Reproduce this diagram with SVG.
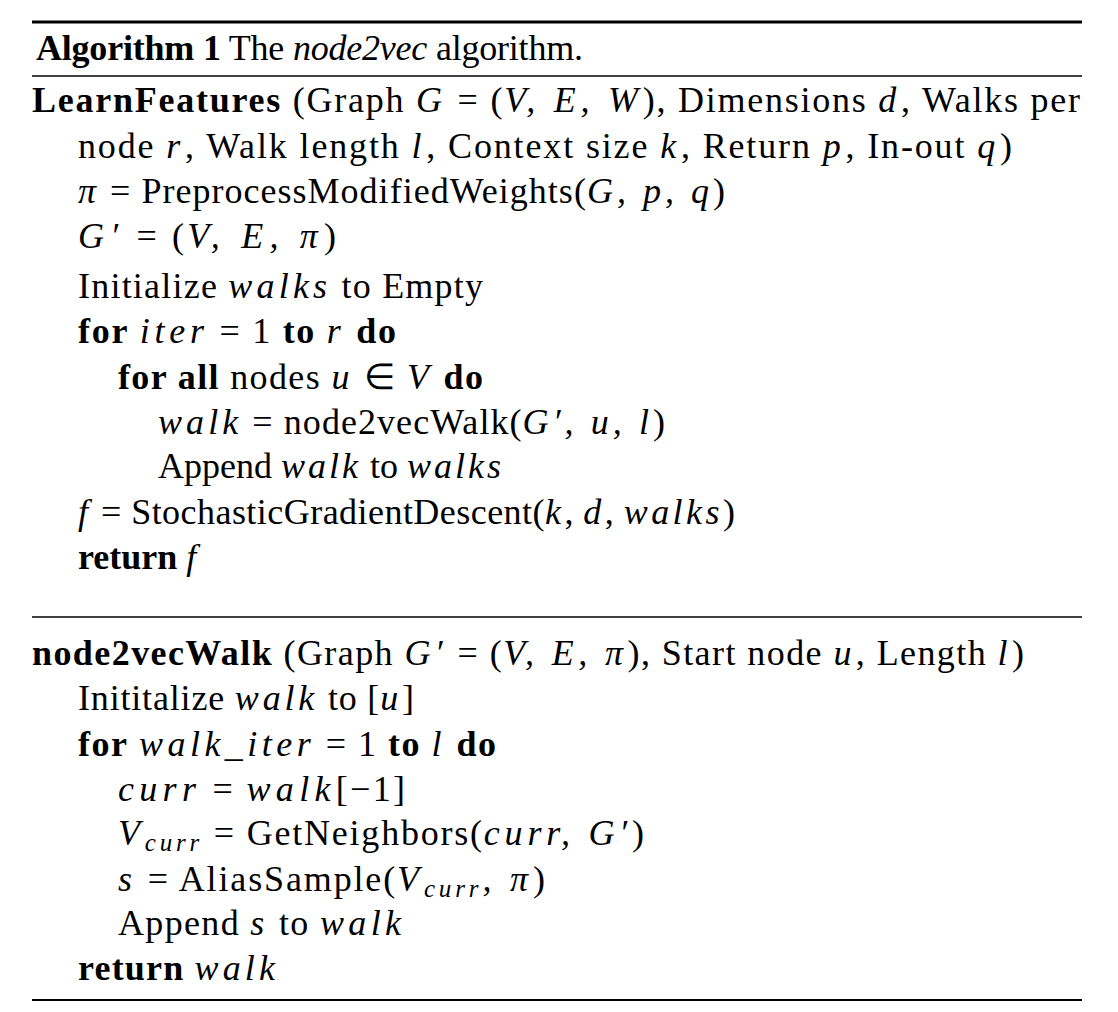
<svg xmlns="http://www.w3.org/2000/svg" width="1118" height="1012" viewBox="0 0 1118 1012">
<style>
text{font-family:"Liberation Serif","Times New Roman",serif;font-size:36px;fill:#000}
.b{font-weight:bold}.i{font-style:italic;letter-spacing:3px}
.s{font-style:italic;font-size:25px;letter-spacing:2px}
</style>
<rect width="1118" height="1012" fill="#fff"/>
<line x1="32" y1="22" x2="1082" y2="22" stroke="#000" stroke-width="3"/>
<line x1="32" y1="76" x2="1082" y2="76" stroke="#000" stroke-width="1.5"/>
<line x1="32" y1="617" x2="1082" y2="617" stroke="#000" stroke-width="1.5"/>
<line x1="32" y1="1000" x2="1082" y2="1000" stroke="#000" stroke-width="2"/>
<text x="36" y="60" font-size="34" textLength="547" lengthAdjust="spacing"><tspan class="b">Algorithm 1</tspan> The <tspan font-style="italic">node2vec</tspan> algorithm.</text>
<text x="32" y="112" textLength="1048" lengthAdjust="spacing"><tspan class="b">LearnFeatures</tspan> (Graph <tspan class="i">G</tspan> = (<tspan class="i">V, E, W</tspan>), Dimensions <tspan class="i">d</tspan>, Walks per</text>
<text x="78" y="158" textLength="934" lengthAdjust="spacing">node <tspan class="i">r</tspan>, Walk length <tspan class="i">l</tspan>, Context size <tspan class="i">k</tspan>, Return <tspan class="i">p</tspan>, In-out <tspan class="i">q</tspan>)</text>
<text x="78" y="203" textLength="647" lengthAdjust="spacing"><tspan class="i">π</tspan> = PreprocessModifiedWeights(<tspan class="i">G, p, q</tspan>)</text>
<text x="78" y="248" textLength="258" lengthAdjust="spacing"><tspan class="i">G′</tspan> = (<tspan class="i">V, E, π</tspan>)</text>
<text x="78" y="298" textLength="405" lengthAdjust="spacing">Initialize <tspan class="i">walks</tspan> to Empty</text>
<text x="78" y="343" textLength="318" lengthAdjust="spacing"><tspan class="b">for</tspan> <tspan class="i">iter</tspan> = 1 <tspan class="b">to</tspan> <tspan class="i">r</tspan> <tspan class="b">do</tspan></text>
<text x="118" y="389" textLength="365" lengthAdjust="spacing"><tspan class="b">for all</tspan> nodes <tspan class="i">u</tspan> ∈ <tspan class="i">V</tspan> <tspan class="b">do</tspan></text>
<text x="158" y="434" textLength="507" lengthAdjust="spacing"><tspan class="i">walk</tspan> = node2vecWalk(<tspan class="i">G′, u, l</tspan>)</text>
<text x="158" y="478" textLength="346" lengthAdjust="spacing">Append <tspan class="i">walk</tspan> to <tspan class="i">walks</tspan></text>
<text x="78" y="524" textLength="657" lengthAdjust="spacing"><tspan class="i">f</tspan> = StochasticGradientDescent(<tspan class="i">k</tspan>, <tspan class="i">d</tspan>, <tspan class="i">walks</tspan>)</text>
<text x="78" y="569"><tspan class="b">return</tspan> <tspan class="i">f</tspan></text>
<text x="32" y="665" textLength="992" lengthAdjust="spacing"><tspan class="b">node2vecWalk</tspan> (Graph <tspan class="i">G′</tspan> = (<tspan class="i">V, E, π</tspan>), Start node <tspan class="i">u</tspan>, Length <tspan class="i">l</tspan>)</text>
<text x="78" y="710" textLength="336" lengthAdjust="spacing">Inititalize <tspan class="i">walk</tspan> to [<tspan class="i">u</tspan>]</text>
<text x="78" y="756" textLength="418" lengthAdjust="spacing"><tspan class="b">for</tspan> <tspan class="i">walk_iter</tspan> = 1 <tspan class="b">to</tspan> <tspan class="i">l</tspan> <tspan class="b">do</tspan></text>
<text x="118" y="801" textLength="287" lengthAdjust="spacing"><tspan class="i">curr</tspan> = <tspan class="i">walk</tspan>[−1]</text>
<text x="118" y="845" textLength="526" lengthAdjust="spacing"><tspan class="i">V</tspan><tspan class="s" dy="6">curr</tspan><tspan dy="-6"> = GetNeighbors(</tspan><tspan class="i">curr, G′</tspan>)</text>
<text x="118" y="891" textLength="427" lengthAdjust="spacing"><tspan class="i">s</tspan> = AliasSample(<tspan class="i">V</tspan><tspan class="s" dy="6">curr</tspan><tspan dy="-6" class="i">, π</tspan>)</text>
<text x="118" y="935" textLength="286" lengthAdjust="spacing">Append <tspan class="i">s</tspan> to <tspan class="i">walk</tspan></text>
<text x="78" y="980" textLength="200" lengthAdjust="spacing"><tspan class="b">return</tspan> <tspan class="i">walk</tspan></text>
</svg>
